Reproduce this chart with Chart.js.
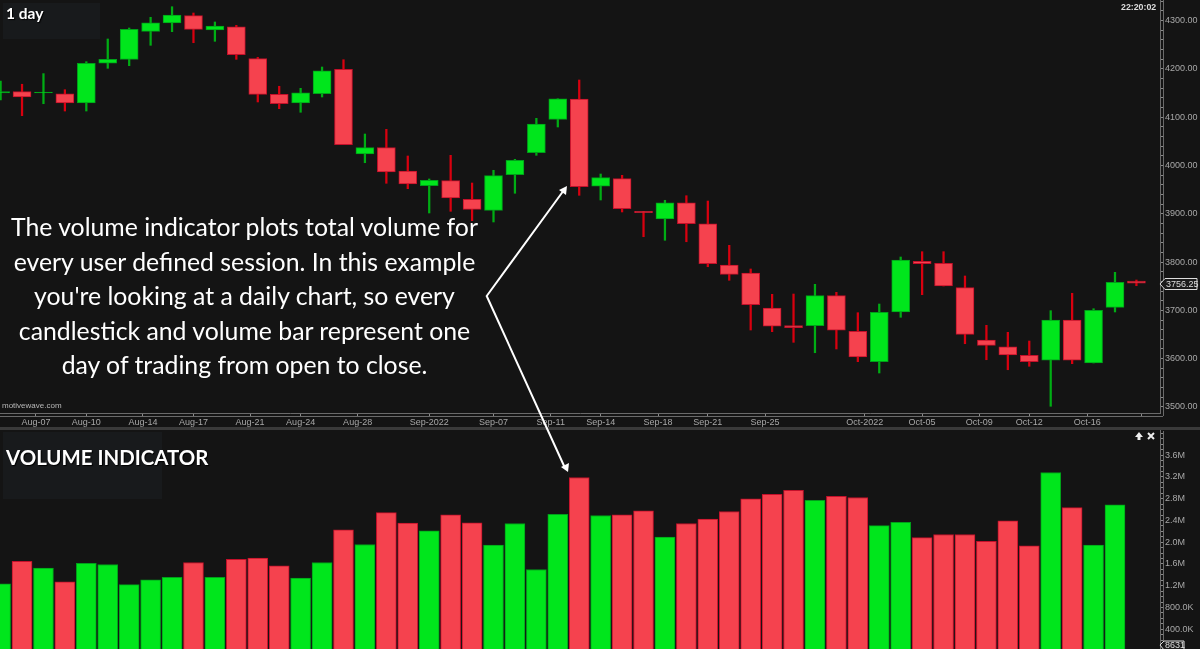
<!DOCTYPE html>
<html lang="en">
<head>
    <meta charset="UTF-8">
    <title>Volume Indicator</title>
    <script src="https://cdn.jsdelivr.net/npm/chart.js"></script>
    <style>
        html, body { margin: 0; padding: 0; background: #141414; width: 1200px; height: 649px; overflow: hidden; }
        canvas { position: absolute; left: 0; }
        #priceChart { top: 0; }
        #volumeChart { top: 430px; }
        .box { position: absolute; background: #181a1c; }
        .note { position: absolute; font-family: Lato, sans-serif; color: #fff; white-space: nowrap; }
        .small { position: absolute; font-family: "Liberation Sans", sans-serif; white-space: nowrap; }
        #band { position: absolute; left: 0; top: 427px; width: 1200px; height: 3px; background: #3a3a3a; }
        svg { position: absolute; left: 0; top: 0; }
    </style>
</head>
<body>

<div class="box" style="left:3px;top:3px;width:97px;height:36px"></div>
<div class="box" style="left:3px;top:432px;width:159px;height:67px"></div>

<canvas id="priceChart" width="1200" height="428"></canvas>
<div id="band"></div>
<canvas id="volumeChart" width="1200" height="221"></canvas>

<svg width="1200" height="649">
    <!-- double axis lines -->
    <line x1="1163.5" y1="0" x2="1163.5" y2="416" stroke="#6a6a6a"/>
    <line x1="0" y1="416.5" x2="1163" y2="416.5" stroke="#6a6a6a"/>
    <line x1="1163.5" y1="431" x2="1163.5" y2="649" stroke="#6a6a6a"/>
    <!-- annotation arrows -->
    <polyline points="564,190 486.7,296 565,468" fill="none" stroke="#fff" stroke-width="2"/>
    <polygon points="567,186 566,195 559,190" fill="#fff"/>
    <polygon points="568,472 561,467 569,463" fill="#fff"/>
    <!-- panel icons -->
    <polygon points="1139,432 1143,437 1140.5,437 1140.5,440 1137.5,440 1137.5,437 1135,437" fill="#eee"/>
    <path d="M1148 433 L1154 439 M1154 433 L1148 439" stroke="#eee" stroke-width="2"/>
    <!-- value tags -->
    <polygon points="1160,284 1165,278.5 1197,278.5 1197,289.5 1165,289.5" fill="#1c1c1c" stroke="#ddd"/>
    <polygon points="1160,645 1164,641 1184,641 1184,650 1164,650" fill="#1c1c1c" stroke="#ddd"/>
</svg>

<div class="note" style="left:6px;top:3px;font-size:15.5px;font-weight:700;line-height:20px;text-shadow:1px 1px 1px #000">1 day</div>
<div class="note" style="left:6px;top:444px;font-size:20.4px;font-weight:700;line-height:26px;text-shadow:1px 1px 1px #000">VOLUME INDICATOR</div>
<div class="note" style="left:0;top:210px;width:489px;text-align:center;font-size:24.8px;line-height:34.6px">The volume indicator plots total volume for<br>every user defined session. In this example<br>you're looking at a daily chart, so every<br>candlestick and volume bar represent one<br>day of trading from open to close.</div>

<div class="small" style="left:1121px;top:1px;font-size:8.8px;font-weight:700;line-height:12px;color:#ddd">22:20:02</div>
<div class="small" style="left:2px;top:400px;font-size:8px;line-height:12px;color:#b8b8b8">motivewave.com</div>
<div class="small" style="left:1166px;top:278px;font-size:9px;line-height:12px;color:#ddd">3756.25</div>
<div class="small" style="left:1165px;top:639px;font-size:9px;line-height:12px;color:#ddd">8631</div>

<script>
    // Prix journaliers
    const opens = [4150, 4152.6, 4150, 4148.4, 4129.2, 4211.4, 4219.6, 4277.6, 4294.8, 4309.9, 4280.3, 4287.1, 4220.9, 4147.2, 4129.2, 4148.4, 4199, 4023.6, 4036.7, 3988.4, 3958, 3968.4, 3929.8, 3907, 3980.8, 4026.3, 4095.4, 4137.5, 3956.8, 3972.5, 3905, 3889.1, 3922.8, 3879.3, 3793.9, 3777.3, 3704.8, 3668.2, 3668.2, 3730.3, 3656.6, 3593.7, 3696.6, 3801.5, 3797.4, 3746.9, 3638.6, 3624.7, 3606.9, 3596.6, 3680, 3591, 3706.3, 3760.7];
    const highs = [4174.7, 4168, 4190, 4156.7, 4214.7, 4261.7, 4284.4, 4306.6, 4328.5, 4315.5, 4296.9, 4290, 4223.8, 4163.8, 4159.6, 4203.7, 4218.8, 4065, 4074.7, 4019.5, 3971.9, 4020.9, 3963.6, 3989.9, 4012.6, 4097.5, 4138, 4176.8, 3982.2, 3979.5, 3905, 3927.8, 3937.3, 3926.3, 3834.6, 3785.6, 3733.2, 3733.8, 3753.9, 3737.3, 3695.1, 3713.1, 3810.4, 3821.4, 3821.4, 3771.1, 3669, 3654.5, 3636.5, 3699.3, 3735.3, 3703.4, 3778.7, 3762.8];
    const lows = [4135.4, 4103, 4127.7, 4112.6, 4112.6, 4201, 4206.4, 4248.6, 4276.8, 4254, 4256.9, 4219.6, 4131.3, 4117.4, 4110, 4141.6, 4042.9, 4005.6, 3963, 3951.8, 3901.5, 3905, 3885.6, 3882.9, 3942.3, 4020.9, 4079.5, 3938.1, 3928.4, 3903.6, 3852.4, 3845, 3842, 3790.3, 3762.2, 3659.3, 3655.8, 3633.8, 3612.3, 3620, 3593.7, 3570.3, 3685.6, 3732.4, 3750.4, 3630.9, 3597.8, 3577.1, 3584.2, 3501.4, 3589.6, 3591, 3696.6, 3751];
    const closes = [4153, 4141.6, 4152, 4129.2, 4211.4, 4219.6, 4281.7, 4295.4, 4311.4, 4281.7, 4288.6, 4229.2, 4147.2, 4127.7, 4150.5, 4196, 4042.9, 4036.7, 3986.4, 3961.5, 3969.2, 3932.5, 3909, 3978.7, 4010.6, 4085.7, 4138, 3955.9, 3974.6, 3910.4, 3902.1, 3922.8, 3879.3, 3796.5, 3774.6, 3711.7, 3667, 3664.1, 3730.3, 3658.7, 3603.4, 3695.9, 3804.2, 3796.5, 3750.4, 3650.4, 3627.6, 3607.6, 3593.7, 3680, 3596.6, 3700.2, 3758, 3756.25];
    const volumes = [1233000, 1650000, 1527000, 1270000, 1614000, 1590000, 1222000, 1307000, 1356000, 1627000, 1356000, 1687000, 1711000, 1564000, 1343000, 1627000, 2226000, 1958000, 2546000, 2352000, 2208000, 2502000, 2355000, 1950000, 2344000, 1498000, 2515000, 3190000, 2491000, 2502000, 2576000, 2097000, 2344000, 2428000, 2565000, 2796000, 2883000, 2956000, 2772000, 2846000, 2822000, 2307000, 2368000, 2086000, 2142000, 2142000, 2018000, 2392000, 1932000, 3282000, 2638000, 1950000, 2686000, 8631];

    // Graduations de l'axe du temps (position en nombre de séances)
    const dateTicks = [1.65, 4, 6.64, 9, 11.64, 14, 16.66, 20, 23, 25.67, 28, 30.68, 33, 35.67, 40.32, 43, 45.67, 48, 50.7, 53.26];
    const dateLabels = ['Aug-07', 'Aug-10', 'Aug-14', 'Aug-17', 'Aug-21', 'Aug-24', 'Aug-28', 'Sep-2022', 'Sep-07', 'Sep-11', 'Sep-14', 'Sep-18', 'Sep-21', 'Sep-25', 'Oct-2022', 'Oct-05', 'Oct-09', 'Oct-12', 'Oct-16', ''];
    const priceLabels = ['3500.00', '3600.00', '3700.00', '3800.00', '3900.00', '4000.00', '4100.00', '4200.00', '4300.00'];
    const volumeTicks = [400000, 800000, 1200000, 1600000, 2000000, 2400000, 2800000, 3200000, 3600000];
    const volumeLabels = ['400.0K', '800.0K', '1.2M', '1.6M', '2.0M', '2.4M', '2.8M', '3.2M', '3.6M'];

    const RED = '#f5424e', RED_EDGE = '#c4102a', RED_WICK = '#d8000f';
    const GREEN = '#00e61c', GREEN_EDGE = '#00a01a', GREEN_WICK = '#00ad14';
    const AXIS = '#6a6a6a', TEXT = '#a8a8a8';
    const X_MIN = -0.028, X_MAX = 54.1;

    Chart.defaults.font.family = '"Liberation Sans", Arial, sans-serif';
    Chart.defaults.font.size = 9;
    Chart.defaults.color = TEXT;

    const isUp = i => closes[i] >= opens[i];
    const pick = (up, down) => ctx => isUp(ctx.dataIndex) ? up : down;
    const yGrid = { drawOnChartArea: false, tickLength: 3, color: '#8a8a8a' };

    // Taille fixe de l'axe, sans la marge ajoutée par les libellés
    const fitRight = scale => { scale.width = 40; scale.paddingTop = 0; scale.paddingBottom = 0; };
    const fitBottom = scale => { scale.height = 15; scale.paddingLeft = 0; scale.paddingRight = 0; };

    // Options communes : pas d'animation, pas de légende
    const baseOptions = {
        responsive: false,
        animation: false,
        layout: { padding: 0 },
        plugins: { legend: { display: false }, tooltip: { enabled: false } }
    };

    new Chart(document.getElementById('priceChart'), {
        type: 'bar',
        data: {
            datasets: [
                {
                    // Mèches
                    data: highs.map((h, i) => ({ x: i, y: [lows[i], h] })),
                    backgroundColor: pick(GREEN_WICK, RED_WICK),
                    borderWidth: 0,
                    barThickness: 1.6,
                    grouped: false,
                    order: 2
                },
                {
                    // Corps des bougies
                    data: opens.map((o, i) => ({ x: i, y: [o, closes[i]] })),
                    backgroundColor: pick(GREEN, RED),
                    borderColor: pick(GREEN_EDGE, RED_EDGE),
                    borderWidth: 1,
                    borderSkipped: false,
                    barThickness: 18,
                    grouped: false,
                    order: 1
                }
            ]
        },
        options: {
            ...baseOptions,
            scales: {
                x: {
                    type: 'linear',
                    offset: false,
                    min: X_MIN,
                    max: X_MAX,
                    afterBuildTicks: scale => { scale.ticks = dateTicks.map(v => ({ value: v })); },
                    afterFit: fitBottom,
                    ticks: {
                        autoSkip: false,
                        maxRotation: 0,
                        padding: 1,
                        callback: v => dateLabels[dateTicks.indexOf(v)]
                    },
                    grid: { offset: false, drawOnChartArea: false, tickLength: 3, color: '#8a8a8a' },
                    border: { color: AXIS }
                },
                y: {
                    position: 'right',
                    min: 3487.5,
                    max: 4342.4,
                    afterFit: fitRight,
                    afterBuildTicks: scale => {
                        scale.ticks = scale.ticks.filter(t => t.value >= scale.min && t.value <= scale.max);
                    },
                    ticks: {
                        stepSize: 20,
                        includeBounds: false,
                        autoSkip: false,
                        padding: 2,
                        callback: v => v % 100 === 0 ? priceLabels[(v - 3500) / 100] : ''
                    },
                    grid: yGrid,
                    border: { color: AXIS }
                }
            }
        }
    });

    new Chart(document.getElementById('volumeChart'), {
        type: 'bar',
        data: {
            datasets: [{
                data: volumes.map((v, i) => ({ x: i, y: v })),
                backgroundColor: pick(GREEN, RED),
                borderColor: pick(GREEN_EDGE, RED_EDGE),
                borderWidth: 1,
                borderSkipped: 'start',
                barThickness: 20,
                grouped: false
            }]
        },
        options: {
            ...baseOptions,
            scales: {
                x: {
                    type: 'linear',
                    display: false,
                    offset: false,
                    min: X_MIN,
                    max: X_MAX,
                    grid: { offset: false }
                },
                y: {
                    position: 'right',
                    min: 0,
                    max: 4064000,
                    afterFit: fitRight,
                    // stepSize seul recalcule le pas ici, donc graduations posées à la main
                    afterBuildTicks: scale => {
                        scale.ticks = [];
                        for (let v = 100000; v < scale.max; v += 100000) scale.ticks.push({ value: v });
                    },
                    ticks: {
                        autoSkip: false,
                        padding: 2,
                        callback: v => {
                            const k = volumeTicks.indexOf(v);
                            return k < 0 ? '' : volumeLabels[k];
                        }
                    },
                    grid: yGrid,
                    border: { color: AXIS }
                }
            }
        }
    });
</script>

</body>
</html>
